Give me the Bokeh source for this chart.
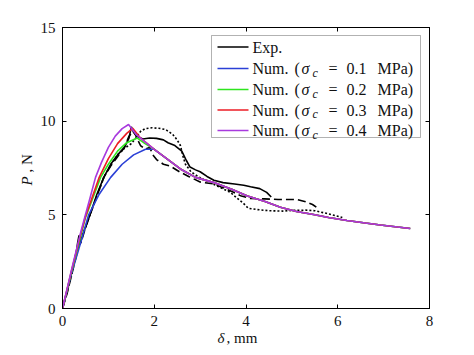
from math import pi
from bokeh.plotting import figure
from bokeh.models import (Label, BoxAnnotation, LinearAxis, Range1d, FixedTicker,
                          ColumnDataSource, CustomJSTickFormatter)
from bokeh.embed import file_html
from bokeh.resources import INLINE

# ---------------- data ----------------
exp1_x = [0, 0.1, 0.2, 0.3, 0.33, 0.36, 0.38, 0.45, 0.6, 0.75, 0.9, 1.05, 1.2, 1.35, 1.45, 1.5, 1.55, 1.62,
          1.75, 1.9, 2.05, 2.2, 2.3, 2.45, 2.6, 2.7, 2.78, 2.9, 3.0, 3.15, 3.3, 3.5, 3.75, 3.95, 4.1, 4.3, 4.45, 4.55]
exp1_y = [0, 0.9, 1.9, 3.0, 3.5, 3.9, 3.4, 4.0, 5.0, 6.1, 7.0, 7.7, 8.2, 8.6, 9.1, 9.7, 9.4, 9.2,
          9.05, 9.1, 9.08, 9.0, 8.85, 8.7, 8.4, 7.9, 7.55, 7.4, 7.3, 7.05, 6.85, 6.72, 6.65, 6.58, 6.5, 6.4, 6.2, 5.95]

exp2_x = [0, 0.1, 0.2, 0.3, 0.35, 0.37, 0.4, 0.5, 0.6, 0.75, 0.9, 1.05, 1.2, 1.35, 1.45, 1.55, 1.62, 1.7,
          1.8, 1.9, 1.97, 2.05, 2.2, 2.35, 2.55, 2.75, 3.0, 3.3, 3.5, 3.73, 3.9, 4.1, 4.4, 4.7, 5.1, 5.3, 5.45, 5.6]
exp2_y = [0, 0.8, 1.8, 2.8, 3.3, 3.8, 3.5, 4.3, 5.0, 6.0, 7.0, 7.6, 8.1, 8.6, 9.2, 9.5, 9.1, 8.7,
          8.5, 8.6, 8.2, 7.95, 7.7, 7.6, 7.3, 7.05, 6.75, 6.65, 6.45, 6.2, 6.0, 5.87, 5.85, 5.82, 5.82, 5.7, 5.55, 5.3]

exp3_x = [0, 0.1, 0.2, 0.3, 0.35, 0.4, 0.5, 0.6, 0.75, 0.9, 1.05, 1.2, 1.35, 1.5, 1.6, 1.7, 1.8, 1.95, 2.1,
          2.25, 2.4, 2.5, 2.57, 2.63, 2.68, 2.8, 2.95, 3.15, 3.44, 3.66, 3.8, 3.95, 4.05, 4.25, 4.5, 4.8,
          5.05, 5.3, 5.5, 5.75, 5.95, 6.1]
exp3_y = [0, 0.85, 1.8, 2.9, 3.4, 3.7, 4.3, 5.0, 6.0, 7.0, 7.65, 8.2, 8.55, 8.8, 9.1, 9.45, 9.6, 9.65, 9.62,
          9.55, 9.3, 9.0, 8.7, 8.1, 7.7, 7.3, 7.05, 6.8, 6.46, 6.2, 5.9, 5.6, 5.35, 5.28, 5.22, 5.2,
          5.24, 5.25, 5.22, 5.08, 4.95, 4.86]

soft_x = [2.0, 2.3, 2.57, 2.9, 3.3, 3.7, 4.03, 4.4, 4.75, 5.1, 5.47, 5.8, 6.2, 6.6, 6.93, 7.3, 7.58]
soft_y = [8.5, 7.95, 7.45, 7.0, 6.72, 6.35, 6.0, 5.72, 5.4, 5.18, 5.02, 4.86, 4.7, 4.56, 4.46, 4.35, 4.27]

num1_x = [0, 0.2, 0.4, 0.57, 0.8, 1.05, 1.3, 1.55, 1.81, 1.9] + soft_x
num1_y = [0, 1.9, 3.55, 5.0, 6.1, 7.0, 7.7, 8.2, 8.5, 8.5] + soft_y
num2_x = [0, 0.2, 0.4, 0.5, 0.83, 1.0, 1.2, 1.4, 1.63, 1.8] + soft_x
num2_y = [0, 2.0, 3.9, 4.85, 7.0, 7.7, 8.4, 8.85, 9.1, 8.8] + soft_y
num3_x = [0, 0.2, 0.4, 0.5, 0.8, 1.0, 1.2, 1.4, 1.53, 1.7, 1.85] + soft_x
num3_y = [0, 2.05, 4.0, 4.9, 7.0, 8.0, 8.8, 9.35, 9.62, 9.1, 8.8] + soft_y
num4_x = [0, 0.2, 0.4, 0.5, 0.6, 0.72, 0.85, 1.0, 1.15, 1.3, 1.44, 1.6, 1.8] + soft_x
num4_y = [0, 2.1, 4.1, 5.0, 5.9, 7.0, 7.8, 8.6, 9.2, 9.6, 9.82, 9.3, 8.9] + soft_y

sigma_values = ["0.1", "0.2", "0.3", "0.4"]
x_ticks = [0, 2, 4, 6, 8]
y_ticks = [0, 5, 10, 15]

C_BLUE = "#2b40d6"
C_GREEN = "#2ee51e"
C_RED = "#ec1c24"
C_PURPLE = "#a83ade"
FONT = "Liberation Serif"

# frame position in picture pixels
FL, FR, FT, FB = 62, 429, 27, 308
W, H = 474, 355

# ---------------- figure ----------------
p = figure(width=W, height=H, x_range=Range1d(0, 8), y_range=Range1d(0, 15),
           output_backend="svg", toolbar_location=None,
           min_border_left=FL, min_border_right=W - FR, min_border_top=FT, min_border_bottom=H - FB)
p.xgrid.visible = False
p.ygrid.visible = False
p.outline_line_color = "black"
p.outline_line_width = 1
p.background_fill_color = "white"

for ax, ticks in ((p.xaxis[0], x_ticks), (p.yaxis[0], y_ticks)):
    ax.ticker = FixedTicker(ticks=ticks)
    ax.minor_tick_line_color = None
    ax.major_tick_in = 4
    ax.major_tick_out = 0
    ax.axis_line_color = "black"
    ax.major_tick_line_color = "black"
    ax.major_label_text_font = FONT
    ax.major_label_text_font_size = "15px"
    ax.major_label_text_color = "#111111"
    ax.major_label_standoff = 7

blank = CustomJSTickFormatter(code="return ''")
top = LinearAxis(ticker=FixedTicker(ticks=x_ticks), major_tick_in=4, major_tick_out=0,
                 minor_tick_line_color=None, formatter=blank, major_label_standoff=0)
right = LinearAxis(ticker=FixedTicker(ticks=y_ticks), major_tick_in=4, major_tick_out=0,
                   minor_tick_line_color=None, formatter=blank, major_label_standoff=0)
p.add_layout(top, "above")
p.add_layout(right, "right")

# experimental curves
p.line(exp2_x, exp2_y, line_color="black", line_width=1.6, line_dash="8 4")
p.line(exp3_x, exp3_y, line_color="black", line_width=1.6, line_dash="2 2")
p.line(exp1_x, exp1_y, line_color="black", line_width=1.6)
# numerical curves
p.line(num1_x, num1_y, line_color=C_BLUE, line_width=1.6)
p.line(num2_x, num2_y, line_color=C_GREEN, line_width=1.6)
p.line(num3_x, num3_y, line_color=C_RED, line_width=1.6)
p.line(num4_x, num4_y, line_color=C_PURPLE, line_width=1.6)

# ---------------- helpers: picture pixels -> data ----------------
def dx(px):
    return (px - FL) / (FR - FL) * 8
def dy(py):
    return (FB - py) / (FB - FT) * 15

# ---------------- legend (drawn by hand) ----------------
p.add_layout(BoxAnnotation(left=dx(211), right=dx(420), top=dy(35), bottom=dy(137),
                           fill_color="white", fill_alpha=1, line_color="black", line_width=1,
                           level="underlay"))
rows_py = [46.5, 68, 89, 109.5, 130]
colors = ["black", C_BLUE, C_GREEN, C_RED, C_PURPLE]
src = ColumnDataSource(dict(x0=[dx(217)] * 5, x1=[dx(248)] * 5, y=[dy(r) for r in rows_py], c=colors))
p.segment(x0="x0", y0="y", x1="x1", y1="y", color="c", line_width=1.6, source=src)

def lab(px, py, text, size="16px", style="normal", place="center", **kw):
    kw.setdefault("text_baseline", "middle")
    p.add_layout(Label(x=dx(px), y=dy(py), text=text, text_font=FONT, text_font_size=size,
                       text_font_style=style, text_color="#111111", **kw), place)

lab(252, rows_py[0], "Exp.")
for r, s in zip(rows_py[1:], sigma_values):
    lab(252, r, "Num.")
    lab(294, r, "(")
    lab(301, r, "σ", style="italic")
    lab(312, r + 4, "c", size="12px", style="italic")
    lab(328, r, "=")
    lab(346, r, s)
    lab(377, r, "MPa)")

# ---------------- axis titles (in side panels so they are not clipped by the frame) ----------------
lab(217, 337, "δ", size="15px", style="italic", place="below")
lab(226, 337, ", mm", size="15px", place="right")
lab(26, 185, "P", size="15px", style="italic", place="left", angle=pi / 2, text_align="left")
lab(26, 172, ", N", size="15px", place="left", angle=pi / 2, text_align="left")

open("out.html", "w").write(file_html(p, INLINE))
